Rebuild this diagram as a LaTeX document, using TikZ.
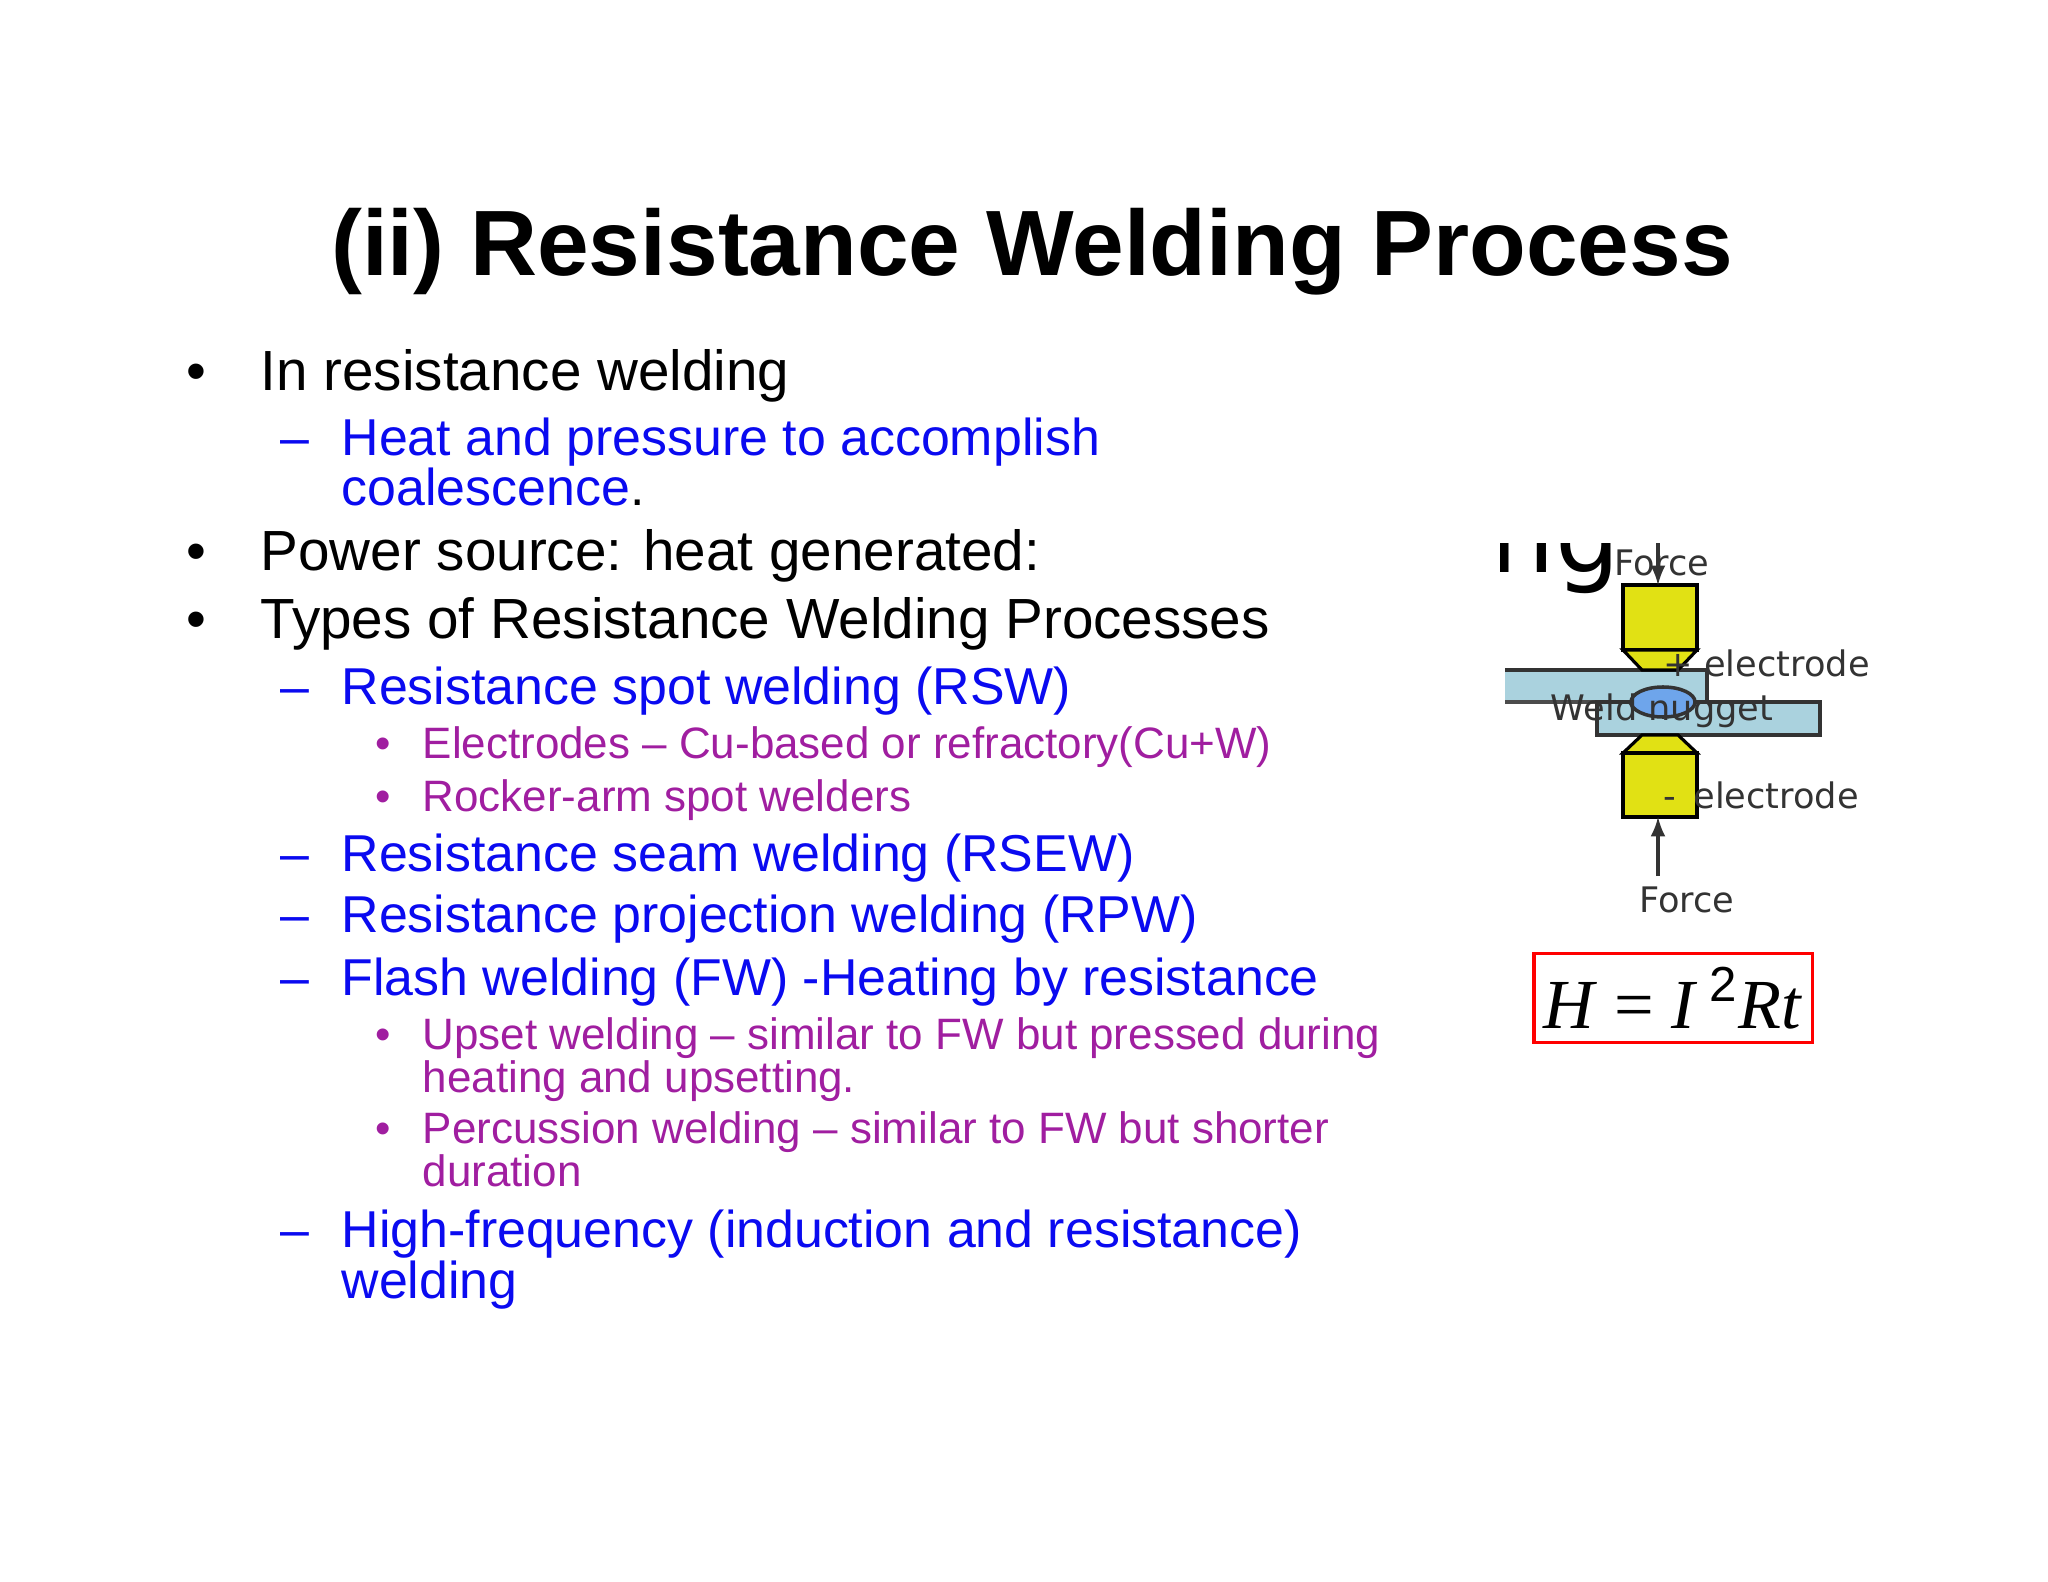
\documentclass[tikz,border=0pt]{standalone}
\usepackage{fontspec}
\usetikzlibrary{shapes.geometric}
\setmainfont{Liberation Sans}
\newfontfamily\formfont{Liberation Serif}
\newfontfamily\figfont{DejaVu Sans}
\definecolor{tblue}{RGB}{10,10,240}
\definecolor{tpurple}{RGB}{160,30,160}
\definecolor{elyellow}{RGB}{225,225,20}
\definecolor{plate}{RGB}{170,210,222}
\definecolor{nug}{RGB}{110,165,235}
\begin{document}
\begin{tikzpicture}[x=0.01cm,y=-0.01cm,
  lone/.style={anchor=base west,inner sep=0,font=\fontsize{16.1}{18}\selectfont},
  ltwo/.style={lone,text=tblue,font=\fontsize{14.75}{18}\selectfont},
  lthree/.style={anchor=base west,inner sep=0,text=tpurple,font=\fontsize{12.5}{15}\selectfont},
  mk/.style={anchor=base,inner sep=0},
  figt/.style={inner sep=0,font=\figfont\fontsize{10}{12}\selectfont,text=black!80},
  elec/.style={fill=elyellow,draw=black,line width=0.9pt}]
\useasboundingbox (0,0) rectangle (2048,1582);
\node[inner sep=0,font=\bfseries\fontsize{26.4}{30}\selectfont] (title) at (1032,252) {(ii) Resistance Welding Process};
% level 1
\node[lone] (a1) at (260,390) {In resistance welding};
\node[lone] (a2) at (260,570) {Power source: heat generated:};
\node[lone] (a3) at (260,638) {Types of Resistance Welding Processes};
\foreach \y/\n in {390/b1,570/b2,638/b3}{\node[lone,mk] (\n) at (196,\y) {•};}
% level 2
\node[ltwo] (c1) at (341,455) {Heat and pressure to accomplish};
\node[ltwo] (c1b) at (341,505) {coalescence\textcolor{black}{.}};
\node[ltwo] (c2) at (341,704) {Resistance spot welding (RSW)};
\node[ltwo] (c3) at (341,871) {Resistance seam welding (RSEW)};
\node[ltwo] (c4) at (341,932) {Resistance projection welding (RPW)};
\node[ltwo] (c5) at (341,995) {Flash welding (FW) -Heating by resistance};
\node[ltwo] (c6) at (341,1247) {High-frequency (induction and resistance)};
\node[ltwo] (c6b) at (341,1298) {welding};
\foreach \y/\n in {455/d1,704/d2,871/d3,932/d4,995/d5,1247/d6}{\node[ltwo,mk] (\n) at (295,\y) {–};}
% level 3
\node[lthree] (e1) at (422,758) {Electrodes – Cu-based or refractory(Cu+W)};
\node[lthree] (e2) at (422,811) {Rocker-arm spot welders};
\node[lthree] (e3) at (422,1049) {Upset welding – similar to FW but pressed during};
\node[lthree] (e3b) at (422,1092) {heating and upsetting.};
\node[lthree] (e4) at (422,1143) {Percussion welding – similar to FW but shorter};
\node[lthree] (e4b) at (422,1186) {duration};
\foreach \y/\n in {758/f1,811/f2,1049/f3,1143/f4}{\node[lthree,mk] (\n) at (383,\y) {•};}
% figure
\begin{scope}
\clip (1500,543) rectangle (1612,600);
\node[anchor=base west,inner sep=0,font=\figfont\fontsize{29}{29}\selectfont] (ng) at (1490,572) {ng};
\end{scope}
\fill[plate] (1505,670) rectangle (1707,702);
\draw[black!80,line width=1.2pt] (1505,670) -- (1707,670) -- (1707,702);
\draw[black!70,line width=1.2pt] (1505,702) -- (1597,702);
\fill[plate] (1597,702) rectangle (1820,735);
\draw[black!80,line width=1.2pt] (1597,702) -- (1820,702) -- (1820,735) -- (1597,735) -- cycle;
\draw[elec] (1623,585) rectangle (1697,650);
\draw[elec] (1623,650) -- (1697,650) -- (1678,670) -- (1642,670) -- cycle;
\draw[elec] (1642,735) -- (1678,735) -- (1697,753) -- (1623,753) -- cycle;
\draw[elec] (1623,753) rectangle (1697,817);
\node[ellipse,draw=black!80,fill=nug,minimum width=0.64cm,minimum height=0.3cm,inner sep=0,line width=1pt] (nugget) at (1663,702) {};
\node[figt] (f1) at (1662,563) {Force};
\node[figt] (f2) at (1687,900) {Force};
\coordinate (ft) at (1658,543);
\coordinate (fb) at (1658,876);
\draw[-latex,black!80,line width=0.9pt] (ft) -- (1658,585);
\draw[-latex,black!80,line width=0.9pt] (fb) -- (1658,817);
\node[figt,anchor=west] (pe) at (1663,663) {+ electrode};
\node[figt] (wn) at (1662,711) {Weld nugget};
\node[figt,anchor=west] (me) at (1663,795) {-\, electrode};
\node[draw=red,line width=0.9pt,minimum width=2.78cm,minimum height=0.89cm,inner sep=0,font=\formfont\fontsize{20}{24}\selectfont] (form) at (1673,998) {\textit{H} = \textit{I}\,$^{\mathrm{2}}$\textit{Rt}};
\end{tikzpicture}
\end{document}
